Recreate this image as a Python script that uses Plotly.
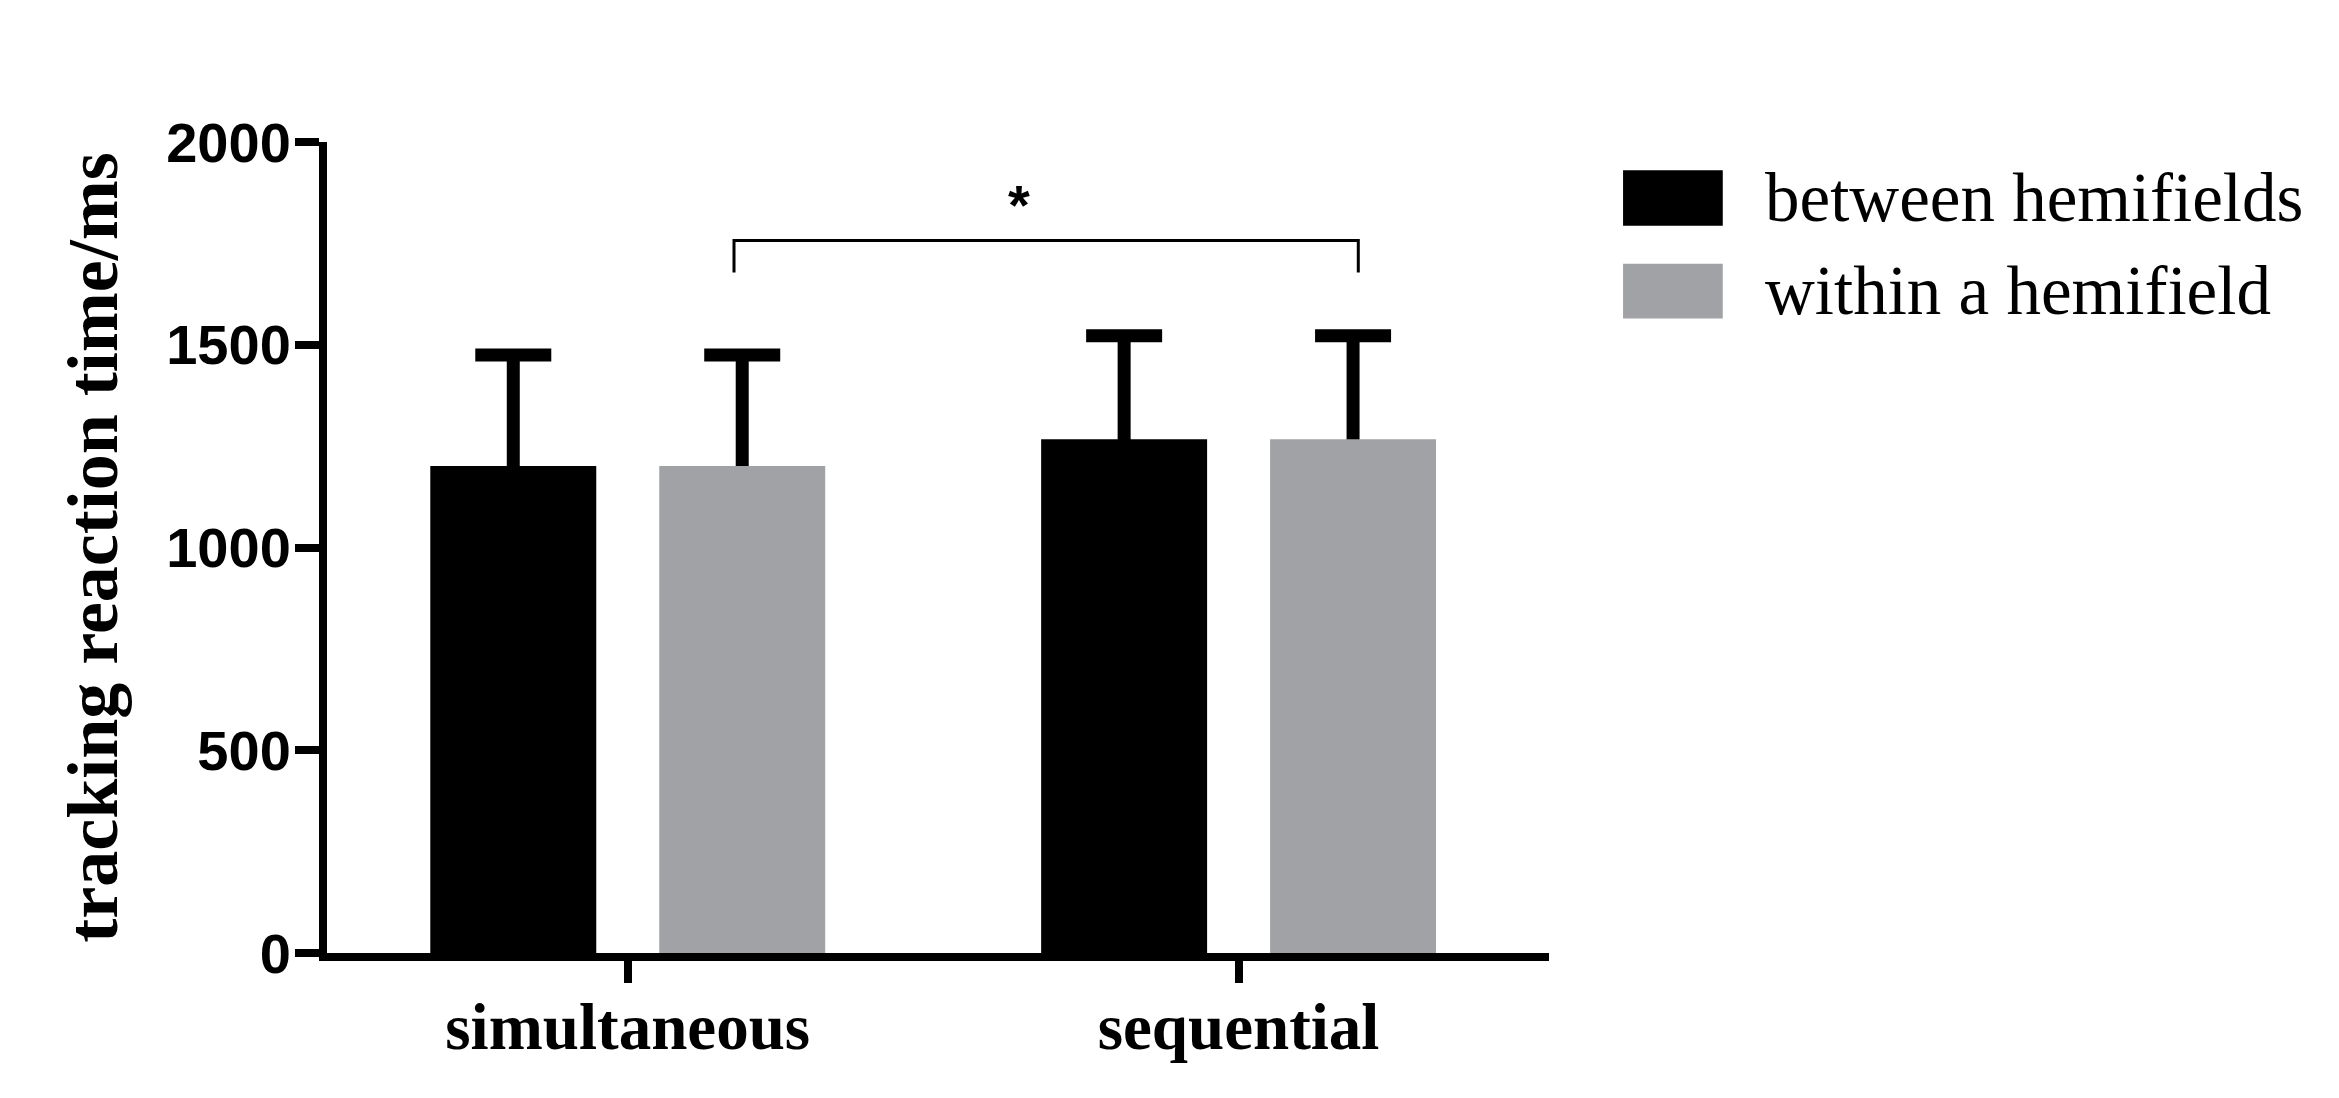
import plotly.graph_objects as go

categories = ["simultaneous", "sequential"]
series_names = ["between hemifields", "within a hemifield"]
between_mean = [1201, 1267]
between_err = [274, 255]
within_mean = [1201, 1267]
within_err = [274, 255]
y_ticks = [0, 500, 1000, 1500, 2000]
sig_label = "*"
y_title = "tracking reaction time/ms"

BLACK = "#000000"
GRAY = "#a1a2a6"
BAR_W = 0.2717
OFF_BETWEEN = -0.3232
OFF_WITHIN = 0.0516
HIDDEN_MINUS = 20  # lower end of the error bar tucked inside the bar

fig = go.Figure()
# carrier of the "within" error bars, drawn underneath the grey bars
fig.add_trace(go.Bar(
    x=categories, y=within_mean, name=series_names[1] + " SD",
    marker=dict(color="rgba(0,0,0,0)", line=dict(width=0)),
    width=BAR_W, offset=OFF_WITHIN,
    error_y=dict(type="data", symmetric=False, array=within_err,
                 arrayminus=[HIDDEN_MINUS] * len(categories),
                 color=BLACK, thickness=13, width=38),
    showlegend=False, hoverinfo="skip",
))
fig.add_trace(go.Bar(
    x=categories, y=between_mean, name=series_names[0],
    marker=dict(color=BLACK, line=dict(width=0)),
    width=BAR_W, offset=OFF_BETWEEN,
    error_y=dict(type="data", symmetric=False, array=between_err,
                 arrayminus=[HIDDEN_MINUS] * len(categories),
                 color=BLACK, thickness=13, width=38),
    showlegend=False,
))
fig.add_trace(go.Bar(
    x=categories, y=within_mean, name=series_names[1],
    marker=dict(color=GRAY, line=dict(width=0)),
    width=BAR_W, offset=OFF_WITHIN,
    showlegend=False,
))

# significance bracket
fig.add_shape(type="path", xref="x", yref="y",
              path="M 0.174,1678 L 0.174,1757 L 1.196,1757 L 1.196,1678",
              line=dict(color=BLACK, width=3))
fig.add_annotation(x=0.641, y=1845, xref="x", yref="y", text=sig_label,
                   showarrow=False, font=dict(family="Liberation Sans", size=56, color=BLACK,
                                              weight="bold"))

# custom legend
leg_items = [(series_names[0], BLACK, 0.9653, 0.8966, 0.931),
             (series_names[1], GRAY, 0.850, 0.7825, 0.8163)]
for name, col, y1, y0, yc in leg_items:
    fig.add_shape(type="rect", xref="paper", yref="paper",
                  x0=1.0606, x1=1.1422, y0=y0, y1=y1,
                  fillcolor=col, line=dict(width=0))
    fig.add_annotation(x=1.1748, y=yc, xref="paper", yref="paper", text=name,
                       showarrow=False, xanchor="left", yanchor="middle",
                       font=dict(family="Liberation Serif", size=69, color=BLACK))

fig.update_layout(
    width=2339, height=1098,
    margin=dict(l=319, r=798, t=134, b=153, autoexpand=False),
    paper_bgcolor="white", plot_bgcolor="white",
    barmode="overlay",
    xaxis=dict(
        range=[-0.4923, 1.5082], showgrid=False, zeroline=False,
        showline=True, linecolor=BLACK, linewidth=8,
        ticks="outside", ticklen=22, tickwidth=8, tickcolor=BLACK,
        tickfont=dict(family="Liberation Serif", size=65, color=BLACK, weight="bold"),
        ticklabelstandoff=-12,
    ),
    yaxis=dict(
        range=[0, 2000], tickvals=y_ticks, showgrid=False, zeroline=False,
        showline=True, linecolor=BLACK, linewidth=8,
        ticks="outside", ticklen=24, tickwidth=8, tickcolor=BLACK,
        tickfont=dict(family="Liberation Sans", size=56, color=BLACK, weight="bold"),
        ticklabelstandoff=-7,
        title=dict(text=y_title, standoff=28,
                   font=dict(family="Liberation Serif", size=72, color=BLACK, weight="bold")),
    ),
)

fig.write_html("out.html")
